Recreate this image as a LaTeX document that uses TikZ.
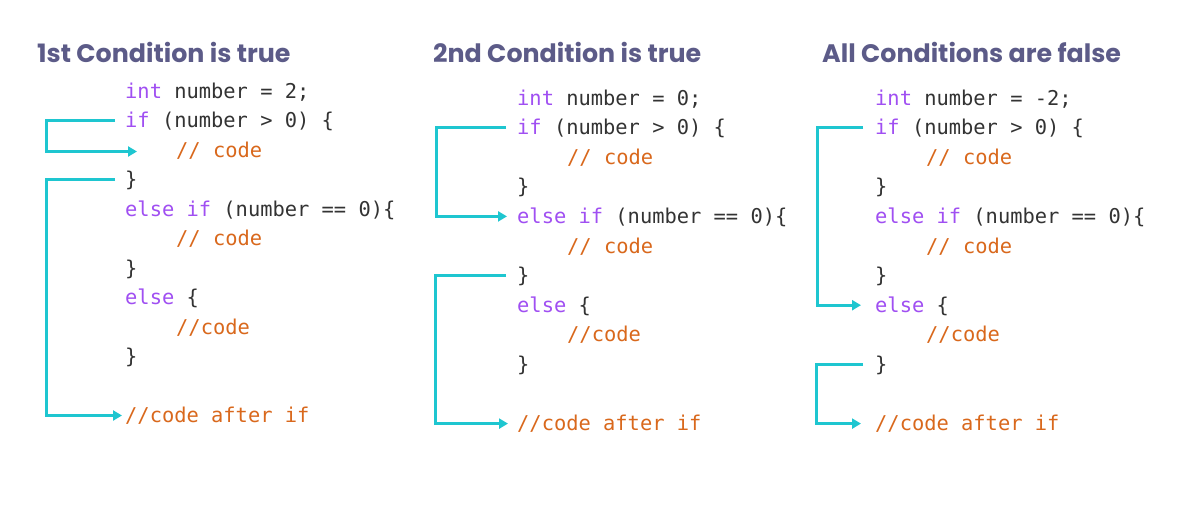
\documentclass[tikz,border=0pt]{standalone}
\usepackage{fontspec}
\setmonofont{DejaVu Sans Mono}
\newfontfamily\titlefont{Poppins}
\usetikzlibrary{arrows.meta}
\definecolor{kwc}{HTML}{A04FF2}
\definecolor{cmc}{HTML}{D9681C}
\definecolor{txc}{HTML}{333333}
\definecolor{cyc}{HTML}{1EC6D0}
\definecolor{tic}{HTML}{5C5B88}
\newcommand{\kw}[1]{\textcolor{kwc}{#1}}
\begin{document}
\begin{tikzpicture}[x=1pt,y=-1pt,
  code/.style={anchor=base west,inner sep=0pt,text height=16pt,text depth=2pt,
    font=\fontsize{20.4}{24}\ttfamily,text=txc},
  cmt/.style={code,text=cmc},
  ttl/.style={anchor=base west,inner sep=0pt,font=\fontsize{25.3}{30}\titlefont\bfseries,text=tic},
  arr/.style={draw=cyc,line width=3pt,line join=miter,-{Triangle[length=9pt,width=10pt]}}]
\useasboundingbox[fill=white] (0,0) rectangle (1200,507);
% titles
\node[ttl] (t1) at (37,62) {1st Condition is true};
\node[ttl] (t2) at (433,62) {2nd Condition is true};
\node[ttl] (t3) at (822,62) {All Conditions are false};
% panel 1
\node[code] (a1) at (125,98) {\kw{int} number = 2;};
\node[code] (a2) at (125,127.5) {\kw{if} (number > 0) \{};
\node[cmt] (a3) at (176,157) {// code};
\node[code] (a4) at (125,186.5) {\}};
\node[code] (a5) at (125,216) {\kw{else if} (number == 0)\{};
\node[cmt] (a6) at (176,245.5) {// code};
\node[code] (a7) at (125,275) {\}};
\node[code] (a8) at (125,304.5) {\kw{else} \{};
\node[cmt] (a9) at (176,334) {//code};
\node[code] (a10) at (125,363.5) {\}};
\node[cmt] (a12) at (125,422.5) {//code after if};
% panel 2
\node[code] (b1) at (517,105) {\kw{int} number = 0;};
\node[code] (b2) at (517,134.6) {\kw{if} (number > 0) \{};
\node[cmt] (b3) at (567,164.2) {// code};
\node[code] (b4) at (517,193.8) {\}};
\node[code] (b5) at (517,223.4) {\kw{else if} (number == 0)\{};
\node[cmt] (b6) at (567,253) {// code};
\node[code] (b7) at (517,282.6) {\}};
\node[code] (b8) at (517,312.2) {\kw{else} \{};
\node[cmt] (b9) at (567,341.8) {//code};
\node[code] (b10) at (517,371.4) {\}};
\node[cmt] (b12) at (517,430.6) {//code after if};
% panel 3
\node[code] (c1) at (875,105) {\kw{int} number = -2;};
\node[code] (c2) at (875,134.6) {\kw{if} (number > 0) \{};
\node[cmt] (c3) at (926,164.2) {// code};
\node[code] (c4) at (875,193.8) {\}};
\node[code] (c5) at (875,223.4) {\kw{else if} (number == 0)\{};
\node[cmt] (c6) at (926,253) {// code};
\node[code] (c7) at (875,282.6) {\}};
\node[code] (c8) at (875,312.2) {\kw{else} \{};
\node[cmt] (c9) at (926,341.8) {//code};
\node[code] (c10) at (875,371.4) {\}};
\node[cmt] (c12) at (875,430.6) {//code after if};
% arrows
\draw[arr] ([xshift=-10pt]a2.west) -- ++(-69,0) |- ([xshift=-39pt,yshift=-1.5pt]a3.west);
\draw[arr] ([xshift=-10pt]a4.west) -- ++(-69,0) |- ([xshift=-3pt]a12.west);
\draw[arr] ([xshift=-11pt]b2.west) -- ++(-70,0) |- ([xshift=-10pt]b5.west);
\draw[arr] ([xshift=-11pt]b7.west) -- ++(-71,0) |- ([xshift=-9pt]b12.west);
\draw[arr] ([xshift=-12pt]c2.west) -- ++(-46,0) |- ([xshift=-14pt]c8.west);
\draw[arr] ([xshift=-12pt]c10.west) -- ++(-47,0) |- ([xshift=-14pt]c12.west);
\end{tikzpicture}
\end{document}
